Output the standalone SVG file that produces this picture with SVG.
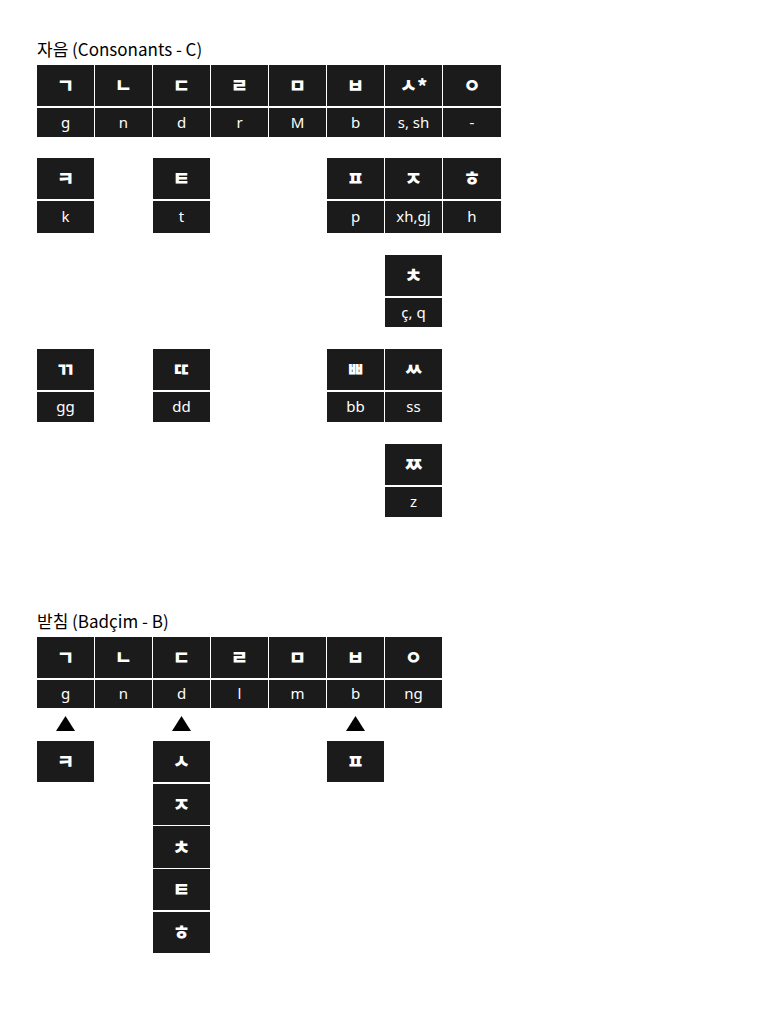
<svg xmlns="http://www.w3.org/2000/svg" width="768" height="1024" viewBox="0 0 768 1024">
<style>
rect{fill:#1b1b1b}
.j{font-family:"Noto Sans CJK KR",sans-serif;font-weight:900;font-size:19px;fill:#fff;text-anchor:middle}
.l{font-family:"Noto Sans","Noto Sans CJK KR",sans-serif;font-size:15px;fill:#fff;text-anchor:middle}
.h{font-family:"Noto Sans CJK KR",sans-serif;font-size:17px;fill:#000}
.t{fill:#000}
</style>
<rect width="768" height="1024" style="fill:#fff"/>
<text class="h" x="37" y="56">자음 (Consonants - C)</text>
<g id="top">
<rect x="37" y="65" width="57" height="41"/><rect x="37" y="108" width="57" height="29"/><text class="j" x="65.5" y="93">ㄱ</text><text class="l" x="65.5" y="128">g</text>
<rect x="95" y="65" width="57" height="41"/><rect x="95" y="108" width="57" height="29"/><text class="j" x="123.5" y="93">ㄴ</text><text class="l" x="123.5" y="128">n</text>
<rect x="153" y="65" width="57" height="41"/><rect x="153" y="108" width="57" height="29"/><text class="j" x="181.5" y="93">ㄷ</text><text class="l" x="181.5" y="128">d</text>
<rect x="211" y="65" width="57" height="41"/><rect x="211" y="108" width="57" height="29"/><text class="j" x="239.5" y="93">ㄹ</text><text class="l" x="239.5" y="128">r</text>
<rect x="269" y="65" width="57" height="41"/><rect x="269" y="108" width="57" height="29"/><text class="j" x="297.5" y="93">ㅁ</text><text class="l" x="297.5" y="128">M</text>
<rect x="327" y="65" width="57" height="41"/><rect x="327" y="108" width="57" height="29"/><text class="j" x="355.5" y="93">ㅂ</text><text class="l" x="355.5" y="128">b</text>
<rect x="385" y="65" width="57" height="41"/><rect x="385" y="108" width="57" height="29"/><text class="j" x="413.5" y="93">ㅅ*</text><text class="l" x="413.5" y="128">s, sh</text>
<rect x="443" y="65" width="58" height="41"/><rect x="443" y="108" width="58" height="29"/><text class="j" x="472" y="93">ㅇ</text><text class="l" x="472" y="128">-</text>
</g>
<g id="row2">
<rect x="37" y="158" width="57" height="41"/><rect x="37" y="201" width="57" height="32"/><text class="j" x="65.5" y="186">ㅋ</text><text class="l" x="65.5" y="222">k</text>
<rect x="153" y="158" width="57" height="41"/><rect x="153" y="201" width="57" height="32"/><text class="j" x="181.5" y="186">ㅌ</text><text class="l" x="181.5" y="222">t</text>
<rect x="327" y="158" width="57" height="41"/><rect x="327" y="201" width="57" height="32"/><text class="j" x="355.5" y="186">ㅍ</text><text class="l" x="355.5" y="222">p</text>
<rect x="385" y="158" width="57" height="41"/><rect x="385" y="201" width="57" height="32"/><text class="j" x="413.5" y="186">ㅈ</text><text class="l" x="413.5" y="222">xh,gj</text>
<rect x="443" y="158" width="58" height="41"/><rect x="443" y="201" width="58" height="32"/><text class="j" x="472" y="186">ㅎ</text><text class="l" x="472" y="222">h</text>
</g>
<g id="ch">
<rect x="385" y="255" width="57" height="41"/><rect x="385" y="298" width="57" height="29"/><text class="j" x="413.5" y="283">ㅊ</text><text class="l" x="413.5" y="318">ç, q</text>
</g>
<g id="double">
<rect x="37" y="349" width="57" height="41"/><rect x="37" y="392" width="57" height="30"/><text class="j" x="65.5" y="377">ㄲ</text><text class="l" x="65.5" y="412">gg</text>
<rect x="153" y="349" width="57" height="41"/><rect x="153" y="392" width="57" height="30"/><text class="j" x="181.5" y="377">ㄸ</text><text class="l" x="181.5" y="412">dd</text>
<rect x="327" y="349" width="57" height="41"/><rect x="327" y="392" width="57" height="30"/><text class="j" x="355.5" y="377">ㅃ</text><text class="l" x="355.5" y="412">bb</text>
<rect x="385" y="349" width="57" height="41"/><rect x="385" y="392" width="57" height="30"/><text class="j" x="413.5" y="377">ㅆ</text><text class="l" x="413.5" y="412">ss</text>
</g>
<g id="jj">
<rect x="385" y="444" width="57" height="41"/><rect x="385" y="487" width="57" height="30"/><text class="j" x="413.5" y="472">ㅉ</text><text class="l" x="413.5" y="507">z</text>
</g>
<text class="h" x="37" y="628">받침 (Badçim - B)</text>
<g id="bat">
<rect x="37" y="637" width="57" height="41"/><rect x="37" y="680" width="57" height="28"/><text class="j" x="65.5" y="665">ㄱ</text><text class="l" x="65.5" y="699">g</text>
<rect x="95" y="637" width="57" height="41"/><rect x="95" y="680" width="57" height="28"/><text class="j" x="123.5" y="665">ㄴ</text><text class="l" x="123.5" y="699">n</text>
<rect x="153" y="637" width="57" height="41"/><rect x="153" y="680" width="57" height="28"/><text class="j" x="181.5" y="665">ㄷ</text><text class="l" x="181.5" y="699">d</text>
<rect x="211" y="637" width="57" height="41"/><rect x="211" y="680" width="57" height="28"/><text class="j" x="239.5" y="665">ㄹ</text><text class="l" x="239.5" y="699">l</text>
<rect x="269" y="637" width="57" height="41"/><rect x="269" y="680" width="57" height="28"/><text class="j" x="297.5" y="665">ㅁ</text><text class="l" x="297.5" y="699">m</text>
<rect x="327" y="637" width="57" height="41"/><rect x="327" y="680" width="57" height="28"/><text class="j" x="355.5" y="665">ㅂ</text><text class="l" x="355.5" y="699">b</text>
<rect x="385" y="637" width="57" height="41"/><rect x="385" y="680" width="57" height="28"/><text class="j" x="413.5" y="665">ㅇ</text><text class="l" x="413.5" y="699">ng</text>
</g>
<g id="arrows">
<polygon class="t" points="65.5,716 56,731 75,731"/>
<polygon class="t" points="181.5,716 172,731 191,731"/>
<polygon class="t" points="355.5,716 346,731 365,731"/>
</g>
<g id="bsub">
<rect x="37" y="741" width="57" height="41"/><text class="j" x="65.5" y="769">ㅋ</text>
<rect x="327" y="741" width="57" height="41"/><text class="j" x="355.5" y="769">ㅍ</text>
<rect x="153" y="741" width="57" height="41"/><text class="j" x="181.5" y="769">ㅅ</text>
<rect x="153" y="784" width="57" height="41"/><text class="j" x="181.5" y="812">ㅈ</text>
<rect x="153" y="826" width="57" height="42"/><text class="j" x="181.5" y="855">ㅊ</text>
<rect x="153" y="869" width="57" height="41"/><text class="j" x="181.5" y="897">ㅌ</text>
<rect x="153" y="912" width="57" height="41"/><text class="j" x="181.5" y="940">ㅎ</text>
</g>
</svg>
